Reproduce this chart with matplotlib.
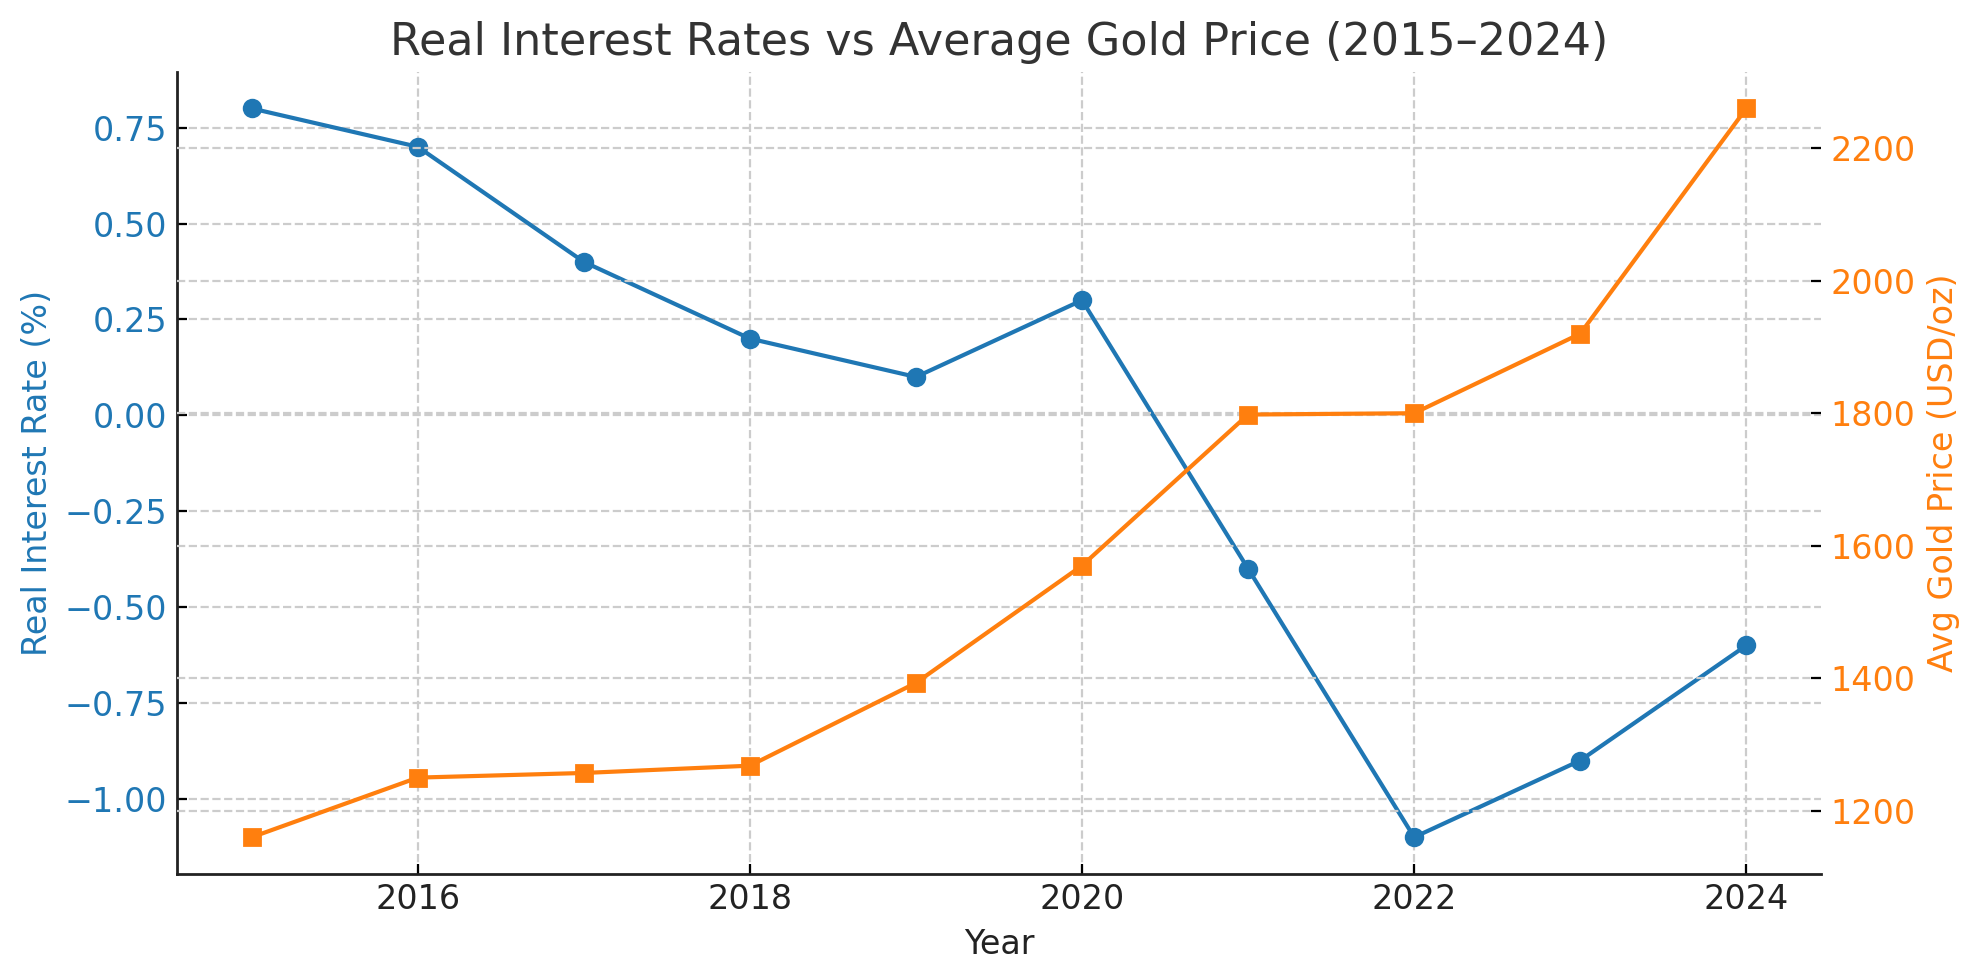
import matplotlib.pyplot as plt

# data
years = [2015, 2016, 2017, 2018, 2019, 2020, 2021, 2022, 2023, 2024]
real_rate = [0.8, 0.7, 0.4, 0.2, 0.1, 0.3, -0.4, -1.1, -0.9, -0.6]
gold_price = [1160, 1250, 1257, 1268, 1393, 1570, 1798, 1800, 1920, 2260]

c_rate = '#1f77b4'
c_gold = '#ff7f0e'

fig = plt.figure(figsize=(9.9, 4.9), dpi=200)
ax1 = fig.add_axes([0.0894, 0.1085, 0.8303, 0.8180])
ax2 = ax1.twinx()

ax1.plot(years, real_rate, color=c_rate, marker='o', linewidth=1.5, markersize=6)
ax2.plot(years, gold_price, color=c_gold, marker='s', linewidth=1.5, markersize=6)

ax1.set_title('Real Interest Rates vs Average Gold Price (2015–2024)',
              fontsize=16, color='#333333')
ax1.set_xlabel('Year', fontsize=12, color='#222222')
ax1.set_ylabel('Real Interest Rate (%)', fontsize=12, color=c_rate)
ax2.set_ylabel('Avg Gold Price (USD/oz)', fontsize=12, color=c_gold)

ax1.tick_params(axis='y', labelcolor=c_rate, labelsize=12, direction='in')
ax1.tick_params(axis='x', labelsize=12, labelcolor='#222222', direction='in')
ax2.tick_params(axis='y', labelcolor=c_gold, labelsize=12, direction='in')

for ax in (ax1, ax2):
    ax.grid(True, linestyle='--', color='#cccccc', linewidth=0.8)
    ax.spines['top'].set_visible(False)
    ax.spines['right'].set_visible(False)
ax2.spines['left'].set_visible(False)
ax2.spines['bottom'].set_visible(False)
ax1.spines['left'].set_color('#222222')
ax1.spines['bottom'].set_color('#222222')
ax1.spines['left'].set_linewidth(1.0)
ax1.spines['bottom'].set_linewidth(1.0)
ax1.set_axisbelow(True)
ax2.set_axisbelow(True)

fig.savefig('out.png', dpi=200)
